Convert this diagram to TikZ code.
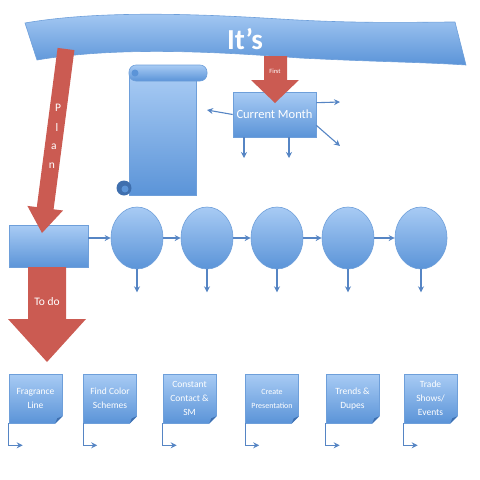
\documentclass[tikz,border=0pt]{standalone}
\usepackage{fontspec}
\setmainfont{Carlito}
\usetikzlibrary{shapes.geometric,calc,arrows.meta}

\definecolor{bluetop}{HTML}{A8CBF4}
\definecolor{bluebot}{HTML}{5B94D8}
\definecolor{blueline}{HTML}{6E9FDA}
\definecolor{bluedark}{HTML}{3F6FAE}
\definecolor{flowblue}{HTML}{5685C4}
\definecolor{planred}{HTML}{CB5B52}

\tikzset{
  bluebox/.style={draw=blueline, line width=0.6pt, top color=bluetop, bottom color=bluebot, text=white},
  bubble/.style={bluebox, ellipse, minimum width=52pt, minimum height=62pt, inner sep=0pt},
  notebox/.style={bluebox, rectangle, minimum width=53pt, minimum height=49pt, align=center, inner sep=1pt},
  flow/.style={draw=flowblue, line width=1.1pt, -{Stealth[length=6pt,width=6pt]}},
  redlbl/.style={text=white, inner sep=0pt},
}

\begin{document}
\begin{tikzpicture}[x=1pt, y=-1pt]

    \useasboundingbox (0,0) rectangle (480,480);

    % Banner
    \shade[bluebox] (25,23) .. controls (100,10) and (200,14) .. (280,19)
        .. controls (360,24) and (420,22) .. (455,22) -- (466,65)
        .. controls (420,62) and (380,62) .. (300,58)
        .. controls (220,52) and (120,46) .. (37,60) -- cycle;
    \node[text=white, font=\fontsize{29}{32}\selectfont\bfseries] (its) at (245,39) {It’s};

    % Scroll
    \shade[bluebox] (129,74) rectangle (196,195);
    \fill[bluedark] (124,188) circle (7.5);
    \fill[bluebot] (125,189) circle (3.5);
    \shade[bluebox, rounded corners=7pt] (129,65) rectangle (207,81);
    \fill[bluebot] (135,73) circle (3.5);

    % Current month box and its arrows
    \node[bluebox, minimum width=83pt, minimum height=45pt, font=\fontsize{12.5}{14}\selectfont] (month) at (274.5,114.5) {Current Month};
    \coordinate (mL) at (207,110);
    \coordinate (mR) at (340,102);
    \coordinate (mD) at (340,146);
    \coordinate (mB1) at (244,158);
    \coordinate (mB2) at (289,158);
    \draw[flow] (month.west) -- (mL);
    \draw[flow] ($(month.north east)+(0,11)$) -- (mR);
    \draw[flow] ($(month.south east)+(0,-12)$) -- (mD);
    \draw[flow] (month.south -| mB1) -- (mB1);
    \draw[flow] (month.south -| mB2) -- (mB2);

    % Start box and the row of bubbles
    \node[bluebox, minimum width=79pt, minimum height=42pt] (hub) at (48.5,246.5) {};
    \foreach \x [count=\i] in {137,207,277,348,421}
        \node[bubble] (c\i) at (\x,238) {};

    \draw[flow] (hub.east |- c1.west) -- (c1.west);
    \foreach \i [evaluate=\i as \j using int(\i+1)] in {1,2,3,4}
        \draw[flow] (c\i.east) -- (c\j.west);
    \foreach \i in {1,...,5} {
        \coordinate (d\i) at ($(c\i.south)+(0,23)$);
        \draw[flow] (c\i.south) -- (d\i);
    }

    % Notes at the bottom
    \foreach \x/\s/\t [count=\i] in {35.5/9.5/{Fragrance\\Line}, 110/9.5/{Find Color\\Schemes},
            189.5/9.5/{Constant\\Contact \&\\SM}, 272/8/{Create\\Presentation},
            352.5/9.5/{Trends \&\\Dupes}, 430.5/9.5/{Trade\\Shows/\\Events}}
        \node[notebox, font=\fontsize{\s}{14}\selectfont] (n\i) at (\x,398.5) {\t};

    \foreach \i in {1,...,6} {
        \fill[white] ($(n\i.south east)+(-7,0.6)$) -- ($(n\i.south east)+(0.6,0.6)$) -- ($(n\i.south east)+(0.6,-7)$) -- cycle;
        \fill[bluedark] ($(n\i.south east)+(-7,0)$) -- ($(n\i.south east)+(0,-7)$) -- ($(n\i.south east)+(-5,-5)$) -- cycle;
        \coordinate (e\i) at ($(n\i.south west)+(14,22)$);
        \draw[flow] (n\i.south west) |- (e\i);
    }

    % Red arrows
    \fill[planred] (57.6,47.9) -- (74.4,50.1) -- (53.6,209.3) -- (63,210.5) -- (42,233)
        -- (27.4,205.9) -- (36.8,207.1) -- cycle;
    \fill[planred] (264,56) -- (287,56) -- (287,80) -- (299,80) -- (275,103) -- (251,80) -- (264,80) -- cycle;
    \fill[planred] (28,267) -- (66,267) -- (66,319) -- (86,319) -- (47,362) -- (8,319) -- (28,319) -- cycle;

    % Labels on the red arrows
    \foreach \l/\x/\y [count=\i] in {P/58/108, l/57/128, a/54/147, n/52/166}
        \node[redlbl, font=\fontsize{11.5}{12}\selectfont] (plan\i) at (\x,\y) {\l};
    \node[redlbl, font=\fontsize{6.5}{8}\selectfont] (first) at (275,71) {First};
    \node[redlbl, font=\fontsize{11.5}{13}\selectfont] (todo) at (47,302) {To do};

\end{tikzpicture}
\end{document}
